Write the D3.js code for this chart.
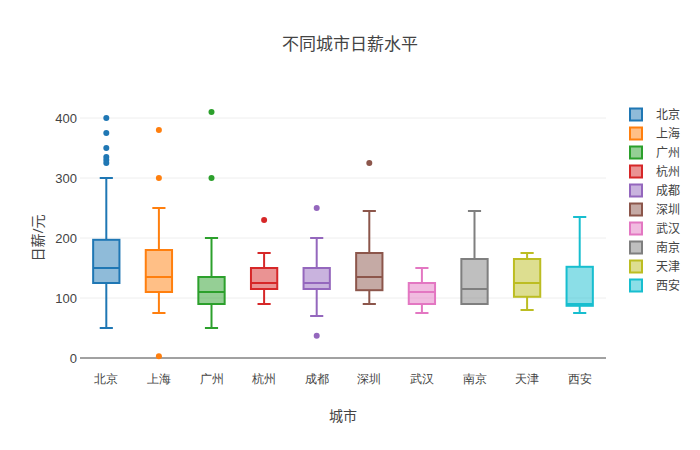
<html>
  <head>
    <title>不同城市日薪水平</title>
    <script type="text/javascript" src="https://cdn.jsdelivr.net/npm/d3@7"></script>
    <style type="text/css">

body {
  margin: 0;
  font-family: "Open Sans", "Noto Sans CJK SC", sans-serif;
}

    </style>
  </head>
  <body>
    <script type="text/javascript">

var cities = ["北京", "上海", "广州", "杭州", "成都", "深圳", "武汉", "南京", "天津", "西安"],
    lower = [50, 75, 50, 90, 70, 90, 75, 90, 80, 75],
    q1 = [125, 110, 90, 115, 115, 113, 90, 90, 102, 87],
    median = [150, 135, 110, 125, 125, 135, 110, 115, 125, 90],
    q3 = [197, 180, 135, 150, 150, 175, 125, 165, 165, 152],
    upper = [300, 250, 200, 175, 200, 245, 150, 245, 175, 235],
    outliers = [
      [400, 375, 350, 335, 330, 325],
      [380, 300, 3],
      [410, 300],
      [230],
      [250, 37],
      [325],
      [], [], [], []
    ],
    yTicks = [0, 100, 200, 300, 400];

var w = 700,
    h = 450,
    left = 80,
    right = 606,
    top = 100,
    bottom = 358,
    color = d3.schemeCategory10;

var x = d3.scaleBand()
    .domain(cities)
    .range([left, right]);

var y = d3.scaleLinear()
    .domain([0, 430])
    .range([bottom, bottom - 430 * 0.6]);

var vis = d3.select("body")
  .append("svg")
    .attr("width", w)
    .attr("height", h)
    .style("font-family", "'Open Sans', 'Noto Sans CJK SC', sans-serif");

vis.append("rect")
    .attr("width", w)
    .attr("height", h)
    .attr("fill", "#fff");

// grid
vis.append("g")
  .selectAll("line")
    .data(yTicks.slice(1))
  .enter().append("line")
    .attr("x1", left)
    .attr("x2", right)
    .attr("y1", function(d) { return y(d); })
    .attr("y2", function(d) { return y(d); })
    .attr("stroke", "#eee")
    .attr("stroke-width", 1);

// y axis labels
var yAxis = d3.axisLeft(y)
    .tickValues(yTicks)
    .tickSize(0)
    .tickPadding(3);

vis.append("g")
    .attr("transform", "translate(" + left + ",0)")
    .call(yAxis)
    .call(function(g) {
      g.select(".domain").remove();
      g.selectAll("text").attr("fill", "#444").style("font-size", "13px");
    });

// x axis labels
var xAxis = d3.axisBottom(x)
    .tickSize(0)
    .tickPadding(16);

vis.append("g")
    .attr("transform", "translate(0," + bottom + ")")
    .call(xAxis)
    .call(function(g) {
      g.select(".domain").remove();
      g.selectAll("text").attr("fill", "#444").style("font-size", "12px");
    });

// zero line
vis.append("line")
    .attr("x1", left)
    .attr("x2", right)
    .attr("y1", y(0))
    .attr("y2", y(0))
    .attr("stroke", "#444")
    .attr("stroke-width", 1);

var boxW = x.bandwidth() * 0.5;

var boxes = vis.selectAll("g.box")
    .data(cities)
  .enter().append("g")
    .attr("class", "box")
    .attr("transform", function(d) { return "translate(" + (x(d) + x.bandwidth() / 2) + ",0)"; });

boxes.each(function(d, i) {
  var g = d3.select(this),
      c = color[i];

  // whiskers
  g.append("line")
      .attr("y1", y(upper[i])).attr("y2", y(q3[i]))
      .attr("stroke", c).attr("stroke-width", 2);
  g.append("line")
      .attr("y1", y(lower[i])).attr("y2", y(q1[i]))
      .attr("stroke", c).attr("stroke-width", 2);
  [upper[i], lower[i]].forEach(function(v) {
    g.append("line")
        .attr("x1", -boxW / 4).attr("x2", boxW / 4)
        .attr("y1", y(v)).attr("y2", y(v))
        .attr("stroke", c).attr("stroke-width", 2);
  });

  g.append("rect")
      .attr("x", -boxW / 2)
      .attr("width", boxW)
      .attr("y", y(q3[i]))
      .attr("height", y(q1[i]) - y(q3[i]))
      .attr("fill", c)
      .attr("fill-opacity", 0.5)
      .attr("stroke", c)
      .attr("stroke-width", 2);

  g.append("line")
      .attr("x1", -boxW / 2).attr("x2", boxW / 2)
      .attr("y1", y(median[i])).attr("y2", y(median[i]))
      .attr("stroke", c).attr("stroke-width", 2);

  g.selectAll("circle")
      .data(outliers[i])
    .enter().append("circle")
      .attr("r", 3)
      .attr("cy", function(v) { return y(v); })
      .attr("fill", c);
});

// title
vis.append("text")
    .attr("x", 350)
    .attr("y", 50)
    .attr("text-anchor", "middle")
    .attr("fill", "#444")
    .style("font-size", "17px")
    .text("不同城市日薪水平");

vis.append("text")
    .attr("x", (left + right) / 2)
    .attr("y", 421)
    .attr("text-anchor", "middle")
    .attr("fill", "#444")
    .style("font-size", "14px")
    .text("城市");

vis.append("text")
    .attr("transform", "translate(43," + y(200) + ") rotate(-90)")
    .attr("text-anchor", "middle")
    .attr("fill", "#444")
    .style("font-size", "14px")
    .text("日薪/元");

// legend
var legend = vis.selectAll("g.legend")
    .data(cities)
  .enter().append("g")
    .attr("class", "legend")
    .attr("transform", function(d, i) { return "translate(630," + (114.5 + i * 19) + ")"; });

legend.append("rect")
    .attr("x", 0)
    .attr("y", -6)
    .attr("width", 12)
    .attr("height", 12)
    .attr("fill", function(d, i) { return color[i]; })
    .attr("fill-opacity", 0.5)
    .attr("stroke", function(d, i) { return color[i]; })
    .attr("stroke-width", 2);

legend.append("text")
    .attr("x", 26)
    .attr("dy", ".35em")
    .attr("fill", "#444")
    .style("font-size", "12px")
    .text(function(d) { return d; });

    </script>
  </body>
</html>
